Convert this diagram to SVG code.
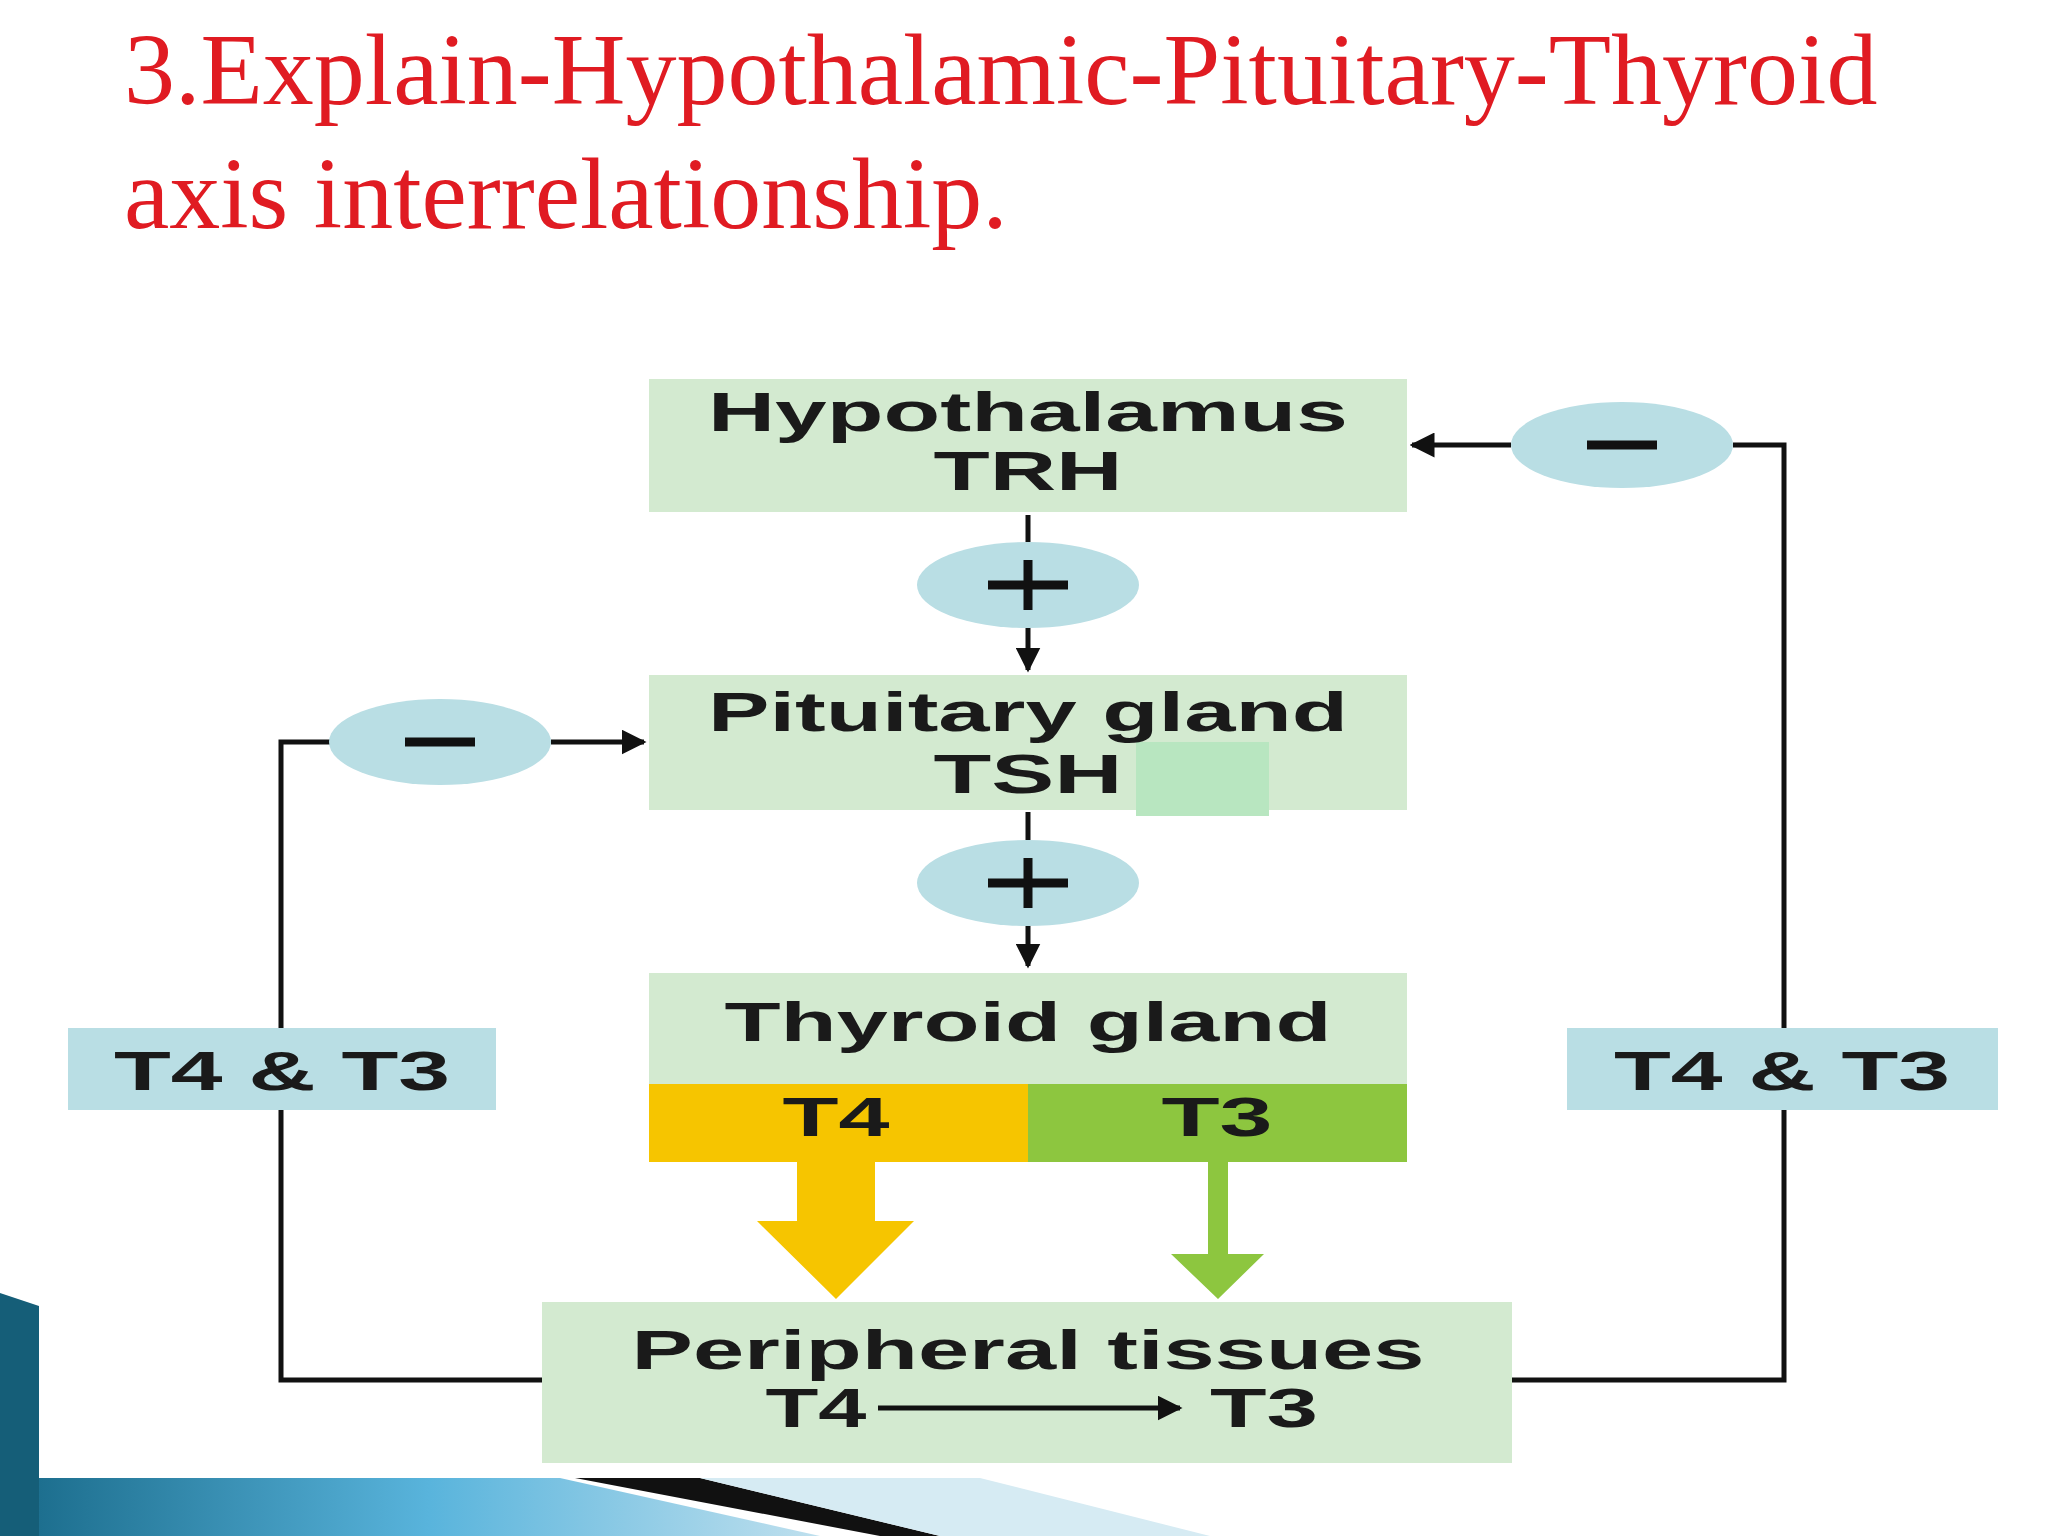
<svg xmlns="http://www.w3.org/2000/svg" width="2048" height="1536" viewBox="0 0 2048 1536">
<defs>
<style>
.box{fill:#d3ead0}
.oval{fill:#b9dee4}
.t{font-family:"Liberation Sans",Arial,sans-serif;font-weight:bold;font-size:56px;fill:#1a1a1a;text-anchor:middle}
.ln{stroke:#111;stroke-width:5;fill:none}
.title{font-family:"Liberation Serif","Times New Roman",serif;font-size:102px;fill:#e01b22}
</style>
<marker id="ah" viewBox="0 0 10 10" refX="9" refY="5" markerWidth="5" markerHeight="5" orient="auto"><path d="M0,0L10,5L0,10z" fill="#111"/></marker>
<linearGradient id="bg" x1="0" x2="1"><stop offset="0" stop-color="#1d6f8f"/><stop offset="0.5" stop-color="#59b4dc"/><stop offset="1" stop-color="#bfe0ee"/></linearGradient>
</defs>
<rect width="2048" height="1536" fill="#fff"/>
<text class="title" x="124" y="104">3.Explain-Hypothalamic-Pituitary-Thyroid</text>
<text class="title" x="124" y="228">axis interrelationship.</text>

<g id="connectors">
<line class="ln" x1="1028" y1="515" x2="1028" y2="542"/>
<line class="ln" x1="1028" y1="627" x2="1028" y2="670" marker-end="url(#ah)"/>
<line class="ln" x1="1028" y1="812" x2="1028" y2="840"/>
<line class="ln" x1="1028" y1="925" x2="1028" y2="966" marker-end="url(#ah)"/>
<polyline class="ln" points="542,1380 281,1380 281,742 330,742"/>
<line class="ln" x1="551" y1="742" x2="644" y2="742" marker-end="url(#ah)"/>
<polyline class="ln" points="1512,1380 1784,1380 1784,445 1733,445"/>
<line class="ln" x1="1511" y1="445" x2="1412" y2="445" marker-end="url(#ah)"/>
<polygon points="797,1162 875,1162 875,1221 914,1221 836,1299 757,1221 797,1221" fill="#f6c500"/>
<polygon points="1208,1162 1228,1162 1228,1254 1264,1254 1218,1299 1171,1254 1208,1254" fill="#8dc63f"/>
</g>

<g id="hypothalamus"><rect class="box" x="649" y="379" width="758" height="133"/>
<text class="t" x="1028" y="431" textLength="640" lengthAdjust="spacingAndGlyphs">Hypothalamus</text><text class="t" x="1028" y="490" textLength="189" lengthAdjust="spacingAndGlyphs">TRH</text></g>
<g id="plus1"><ellipse class="oval" cx="1028" cy="585" rx="111" ry="43"/>
<path d="M988,585H1068M1028,560V610" stroke="#111" stroke-width="9"/></g>
<g id="pituitary"><rect class="box" x="649" y="675" width="758" height="135"/>
<rect x="1136" y="742" width="133" height="74" fill="#b8e6c0"/>
<text class="t" x="1028" y="731" textLength="640" lengthAdjust="spacingAndGlyphs">Pituitary gland</text><text class="t" x="1028" y="793" textLength="189" lengthAdjust="spacingAndGlyphs">TSH</text></g>
<g id="plus2"><ellipse class="oval" cx="1028" cy="883" rx="111" ry="43"/>
<path d="M988,883H1068M1028,858V908" stroke="#111" stroke-width="9"/></g>
<g id="thyroid"><rect class="box" x="649" y="973" width="758" height="112"/>
<rect x="649" y="1084" width="379" height="78" fill="#f6c500"/>
<rect x="1028" y="1084" width="379" height="78" fill="#8dc63f"/>
<text class="t" x="1028" y="1041" textLength="607" lengthAdjust="spacingAndGlyphs">Thyroid gland</text>
<text class="t" x="836" y="1136" textLength="107" lengthAdjust="spacingAndGlyphs">T4</text><text class="t" x="1217" y="1136" textLength="111" lengthAdjust="spacingAndGlyphs">T3</text></g>
<g id="peripheral"><rect class="box" x="542" y="1302" width="970" height="161"/>
<text class="t" x="1028" y="1369" textLength="793" lengthAdjust="spacingAndGlyphs">Peripheral tissues</text>
<text class="t" x="816" y="1427" textLength="101" lengthAdjust="spacingAndGlyphs">T4</text><text class="t" x="1264" y="1427" textLength="108" lengthAdjust="spacingAndGlyphs">T3</text>
<line class="ln" x1="878" y1="1408" x2="1180" y2="1408" marker-end="url(#ah)"/></g>
<g id="minusL"><ellipse class="oval" cx="440" cy="742" rx="111" ry="43"/><path d="M405,742H475" stroke="#111" stroke-width="9"/></g>
<g id="minusR"><ellipse class="oval" cx="1622" cy="445" rx="111" ry="43"/><path d="M1587,445H1657" stroke="#111" stroke-width="9"/></g>
<g id="labelL"><rect class="oval" x="68" y="1028" width="428" height="82"/><text class="t" x="282" y="1090" textLength="336" lengthAdjust="spacingAndGlyphs">T4 &amp; T3</text></g>
<g id="labelR"><rect class="oval" x="1567" y="1028" width="431" height="82"/><text class="t" x="1782" y="1090" textLength="336" lengthAdjust="spacingAndGlyphs">T4 &amp; T3</text></g>

<polygon points="0,1293 39,1306 39,1536 0,1536" fill="#155e78"/>
<polygon points="39,1478 560,1478 820,1536 39,1536" fill="url(#bg)"/>
<polygon points="575,1478 700,1478 940,1536 880,1536" fill="#111"/>
<polygon points="700,1478 980,1478 1210,1536 940,1536" fill="#d6ebf3"/>
</svg>
